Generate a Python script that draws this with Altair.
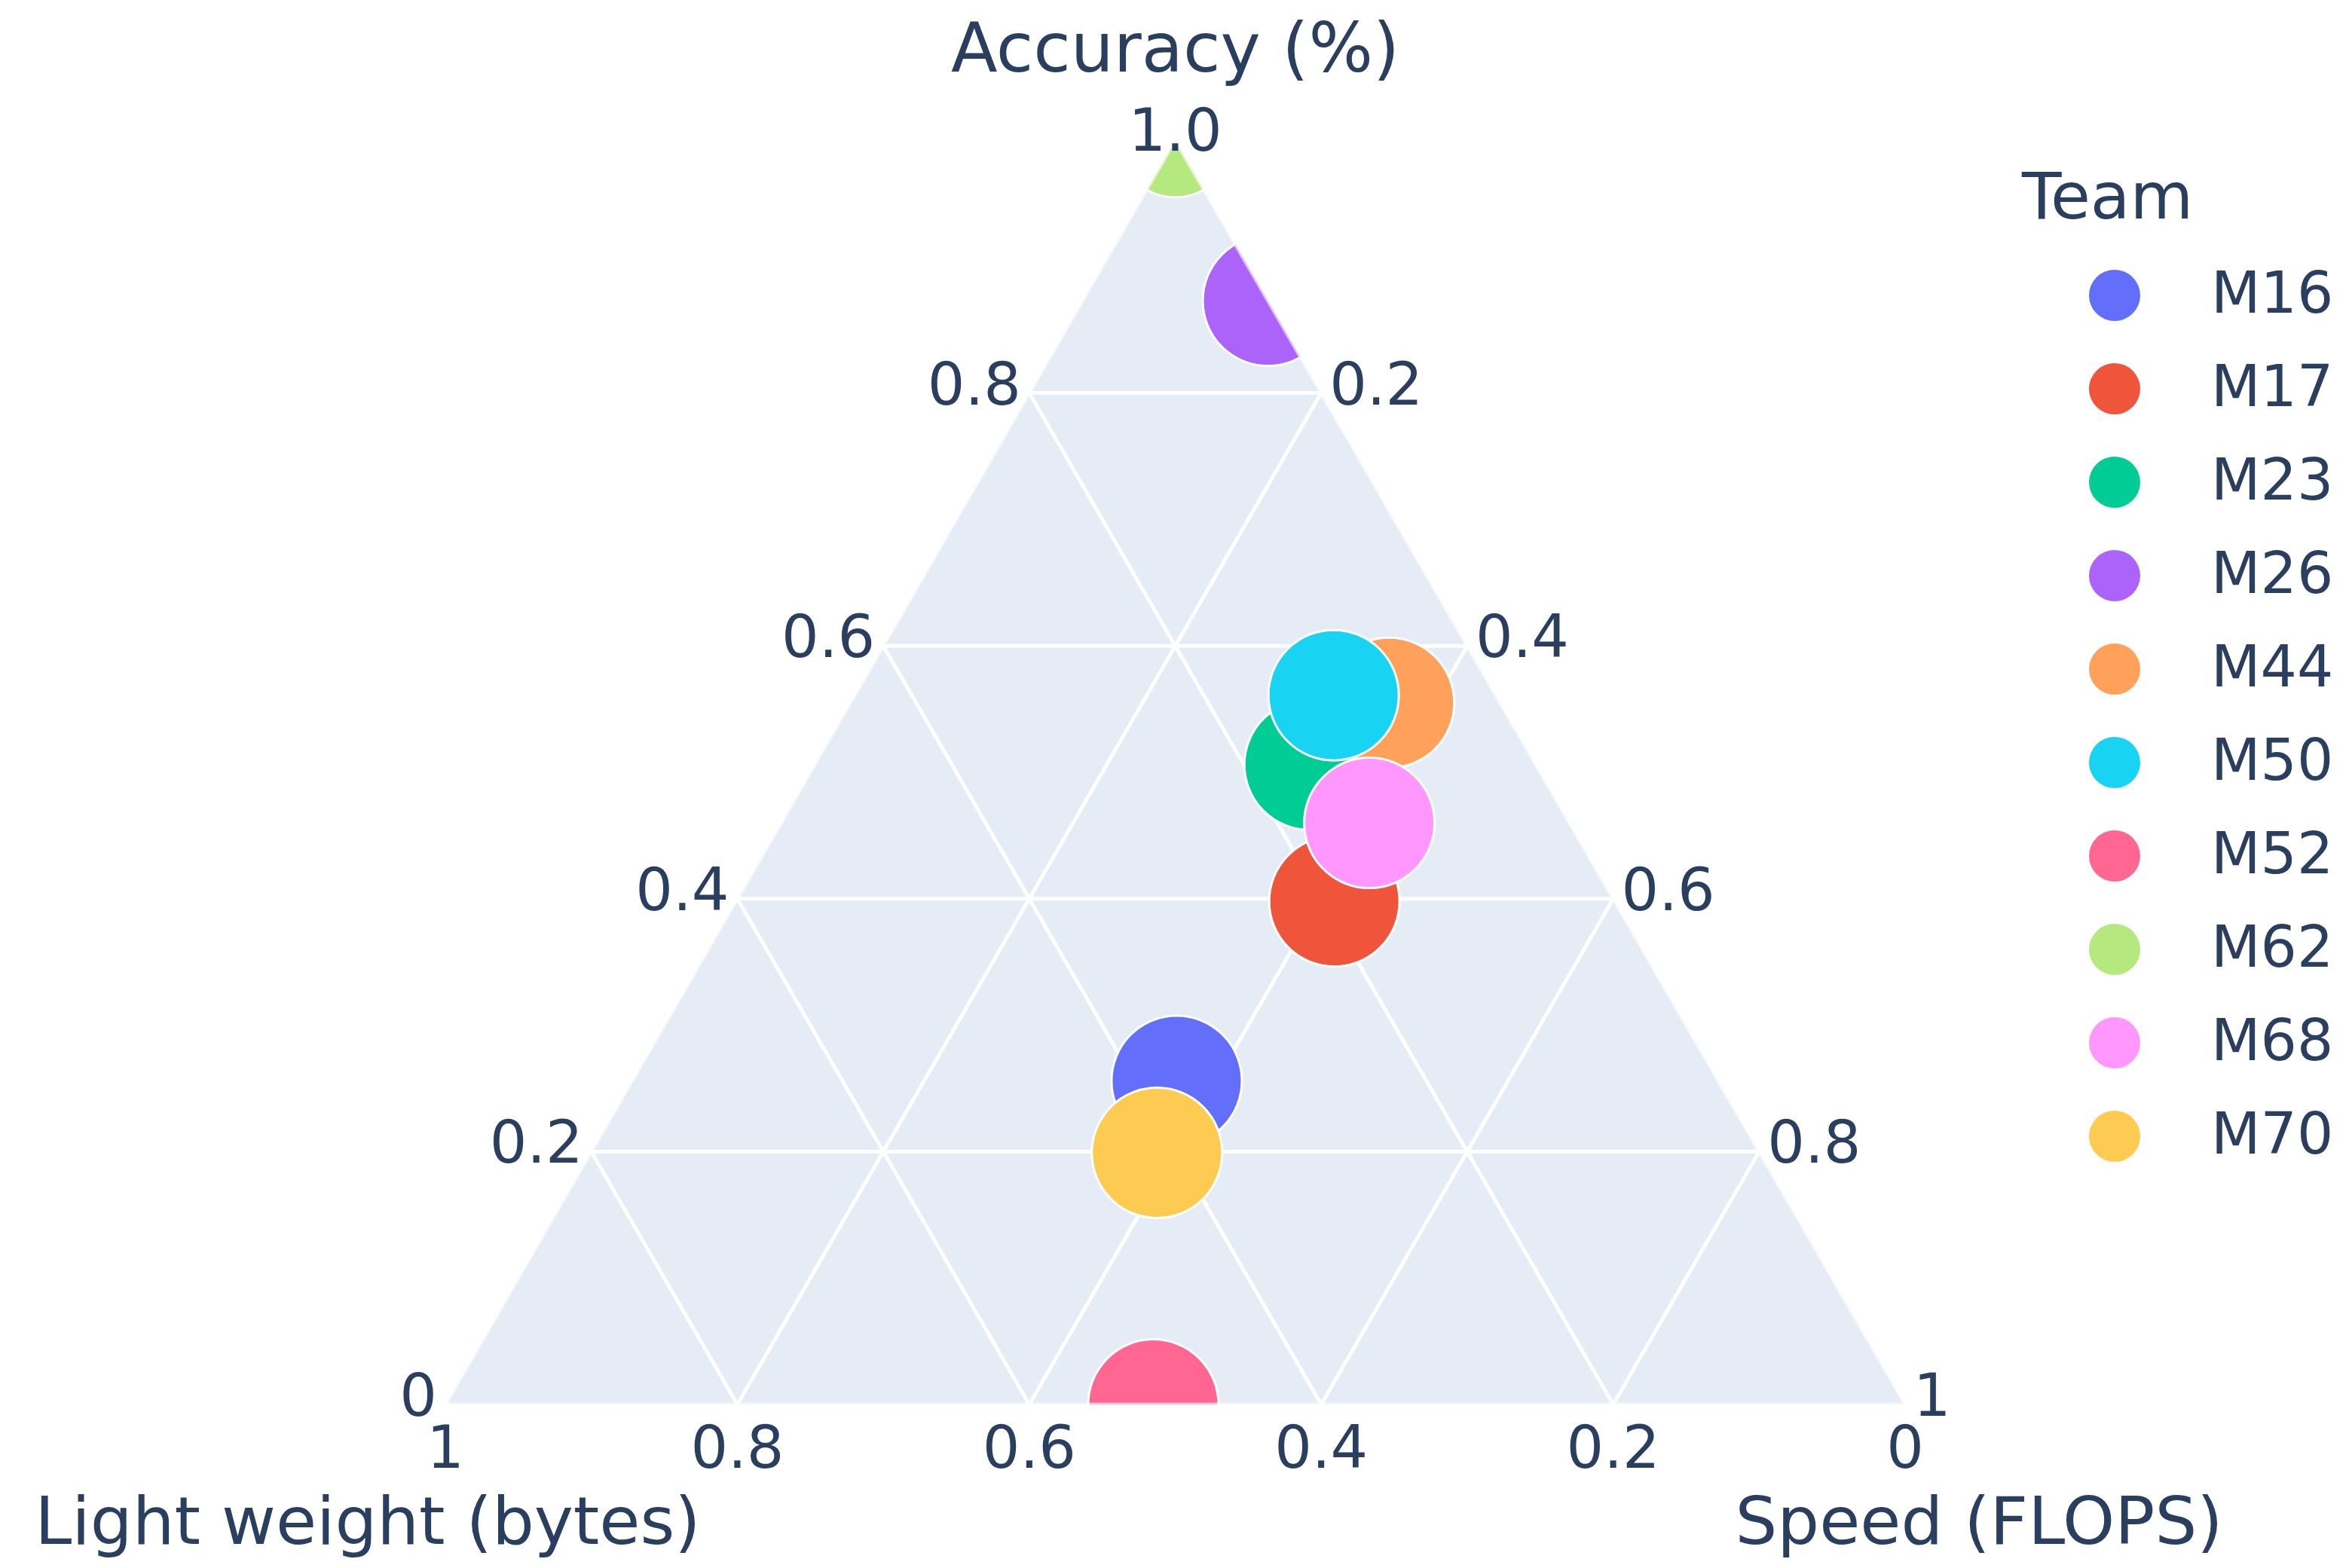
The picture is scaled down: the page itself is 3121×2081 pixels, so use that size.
import math
import altair as alt
import pandas as pd

# ---------------- data ----------------
teams = ["M16", "M17", "M23", "M26", "M44", "M50", "M52", "M62", "M68", "M70"]
accuracy = [0.256, 0.398, 0.506, 0.873, 0.555, 0.561, 0.000, 1.000, 0.460, 0.199]
light_weight = [0.371, 0.192, 0.155, 0.000, 0.076, 0.111, 0.515, 0.000, 0.137, 0.413]
speed = [0.373, 0.410, 0.339, 0.127, 0.369, 0.328, 0.485, 0.000, 0.403, 0.388]
marker_size = [1.0, 1.0, 1.0, 1.0, 1.0, 1.0, 1.0, 0.77, 1.0, 1.0]
team_colors = ["#636EFA", "#EF553B", "#00CC96", "#AB63FA", "#FFA15A",
               "#19D3F3", "#FF6692", "#B6E880", "#FF97FF", "#FECB52"]

grid_values = [0.2, 0.4, 0.6, 0.8]
a_tick_values = [0.0, 0.2, 0.4, 0.6, 0.8]
a_tick_labels = ["0", "0.2", "0.4", "0.6", "0.8"]
apex_label = "1.0"
b_tick_values = [1.0, 0.8, 0.6, 0.4, 0.2, 0.0]
b_tick_labels = ["1", "0.8", "0.6", "0.4", "0.2", "0"]
c_tick_values = [0.2, 0.4, 0.6, 0.8, 1.0]
c_tick_labels = ["0.2", "0.4", "0.6", "0.8", "1"]

title_a = "Accuracy (%)"
title_b = "Light weight (bytes)"
title_c = "Speed (FLOPS)"
legend_title = "Team"

# ---------------- helpers ----------------
SQ = math.sqrt(3) / 2
TEXT = "#2a3f5f"
FONT = "DejaVu Sans"


def tern(a, b, c):
    s = a + b + c
    a, b, c = a / s, b / s, c / s
    return c + a / 2, a * SQ


W = 1937
H = 1678

X = lambda f="x": alt.X(f + ":Q", scale=alt.Scale(domain=[0, 1], nice=False, zero=False), axis=None)
Y = lambda f="y": alt.Y(f + ":Q", scale=alt.Scale(domain=[0, SQ], nice=False, zero=False), axis=None)

# background triangle
tri_rows = []
for (a, b, c) in [(0, 1, 0), (1, 0, 0), (0, 0, 1)]:
    x, y = tern(a, b, c)
    tri_rows.append({"x": x, "y": y, "y0": 0.0})
tri = pd.DataFrame(tri_rows)
background = alt.Chart(tri).mark_area(color="#E5ECF6", opacity=1).encode(
    x=X(), y=Y(), y2="y0:Q"
)

# grid lines
grid_rows = []
for v in grid_values:
    for p, q in [((v, 1 - v, 0), (v, 0, 1 - v)),
                 ((0, v, 1 - v), (1 - v, v, 0)),
                 ((0, 1 - v, v), (1 - v, 0, v))]:
        x1, y1 = tern(*p)
        x2, y2 = tern(*q)
        grid_rows.append({"x": x1, "y": y1, "x2": x2, "y2": y2})
grid = pd.DataFrame(grid_rows)
grid_layer = alt.Chart(grid).mark_rule(color="white", strokeWidth=5).encode(
    x=X(), y=Y(), x2="x2:Q", y2="y2:Q"
)

# edges
edge_rows = []
for p, q in [((0, 1, 0), (1, 0, 0)), ((1, 0, 0), (0, 0, 1)), ((0, 1, 0), (0, 0, 1))]:
    x1, y1 = tern(*p)
    x2, y2 = tern(*q)
    edge_rows.append({"x": x1, "y": y1, "x2": x2, "y2": y2})
edges = pd.DataFrame(edge_rows)
edge_layer = alt.Chart(edges).mark_rule(color="white", strokeWidth=5, opacity=0.6).encode(
    x=X(), y=Y(), x2="x2:Q", y2="y2:Q"
)

# points
pts = []
for i, t in enumerate(teams):
    x, y = tern(accuracy[i], light_weight[i], speed[i])
    pts.append({"Team": t, "x": x, "y": y, "size": marker_size[i], "idx": i})
points = pd.DataFrame(pts)
point_layer = alt.Chart(points).mark_circle(
    opacity=1, stroke="white", strokeWidth=3, clip=True
).encode(
    x=X(), y=Y(),
    color=alt.Color(
        "Team:N",
        scale=alt.Scale(domain=teams, range=team_colors),
        legend=alt.Legend(
            title=legend_title, orient="none", legendX=2092, legendY=36,
            direction="vertical", symbolType="circle", symbolSize=4624,
            symbolStrokeWidth=0, symbolOffset=85, labelOffset=90,
            labelFontSize=76, labelFont=FONT, labelColor=TEXT, labelLimit=1000,
            titleFontSize=86, titleFont=FONT, titleFontWeight="normal",
            titleColor=TEXT, titleLimit=1000, titlePadding=46, rowPadding=48,
            padding=0,
        ),
    ),
    size=alt.Size("size:Q", scale=alt.Scale(domain=[0, 1], range=[0, 29929]), legend=None),
    order=alt.Order("idx:Q"),
)

# masks outside the triangle
xl, yl = tern(0, 1, 0)
xa, ya = tern(1, 0, 0)
xr, yr = tern(0, 0, 1)
mask_left = pd.DataFrame({"x": [xl, xa], "y": [yl, ya], "top": [SQ, SQ]})
mask_right = pd.DataFrame({"x": [xa, xr], "y": [ya, yr], "top": [SQ, SQ]})
mask_l = alt.Chart(mask_left).mark_area(color="white", opacity=1).encode(x=X(), y=Y(), y2="top:Q")
mask_r = alt.Chart(mask_right).mark_area(color="white", opacity=1).encode(x=X(), y=Y(), y2="top:Q")

# tick labels
a_rows = []
for v, lab in zip(a_tick_values, a_tick_labels):
    x, y = tern(v, 1 - v, 0)
    a_rows.append({"x": x, "y": y, "label": lab})
b_rows = []
for v, lab in zip(b_tick_values, b_tick_labels):
    x, y = tern(0, v, 1 - v)
    b_rows.append({"x": x, "y": y, "label": lab})
c_rows = []
for v, lab in zip(c_tick_values, c_tick_labels):
    x, y = tern(1 - v, 0, v)
    c_rows.append({"x": x, "y": y, "label": lab})
ax, ay = tern(1, 0, 0)
apex_rows = [{"x": ax, "y": ay, "label": apex_label}]

tick_style = dict(font=FONT, fontSize=78, color=TEXT)
a_text = alt.Chart(pd.DataFrame(a_rows)).mark_text(align="right", baseline="middle", dx=-11, dy=-8, **tick_style).encode(
    x=X(), y=Y(), text="label:N")
b_text = alt.Chart(pd.DataFrame(b_rows)).mark_text(align="center", baseline="middle", dx=0, dy=61, **tick_style).encode(
    x=X(), y=Y(), text="label:N")
c_text = alt.Chart(pd.DataFrame(c_rows)).mark_text(align="left", baseline="middle", dx=11, dy=-8, **tick_style).encode(
    x=X(), y=Y(), text="label:N")
apex_text = alt.Chart(pd.DataFrame(apex_rows)).mark_text(align="center", baseline="alphabetic", dx=0, dy=14, **tick_style).encode(
    x=X(), y=Y(), text="label:N")

# axis titles
title_style = dict(font=FONT, fontSize=88, color=TEXT, baseline="alphabetic", align="center")
t_a = alt.Chart(pd.DataFrame([{"x": ax, "y": ay, "label": title_a}])).mark_text(dy=-91, fontSize=90,
    **{k: v for k, v in title_style.items() if k != "fontSize"}).encode(
    x=X(), y=Y(), text="label:N")
t_b = alt.Chart(pd.DataFrame([{"x": xl, "y": yl, "label": title_b}])).mark_text(dx=-103, dy=185, **title_style).encode(
    x=X(), y=Y(), text="label:N")
t_c = alt.Chart(pd.DataFrame([{"x": xr, "y": yr, "label": title_c}])).mark_text(dx=98, dy=185, **title_style).encode(
    x=X(), y=Y(), text="label:N")

chart = alt.layer(
    background, grid_layer, point_layer, mask_l, mask_r, edge_layer,
    a_text, b_text, c_text, apex_text, t_a, t_b, t_c,
).properties(
    width=W, height=H,
    padding={"left": 583, "top": 178, "right": 585, "bottom": 209},
    autosize=alt.AutoSizeParams(type="none"),
    background="white",
).configure_view(stroke=None)

chart.save("out.html", embed_options={"renderer": "svg", "actions": False})
